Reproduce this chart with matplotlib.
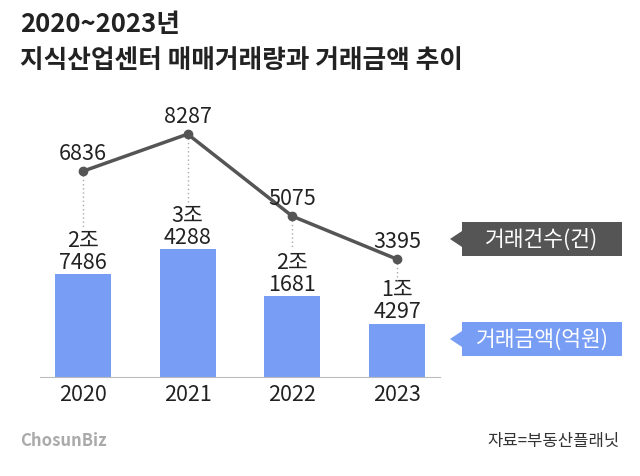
import matplotlib
matplotlib.use("Agg")
import matplotlib.pyplot as plt
from matplotlib.patches import FancyBboxPatch, Polygon

plt.rcParams['font.family'] = ['Noto Sans CJK KR', 'Noto Sans CJK JP', 'Noto Sans CJK SC', 'DejaVu Sans']

years = ['2020', '2021', '2022', '2023']
amount = [27486, 34288, 21681, 14297]          # 억원
amount_labels = ['2조\n7486', '3조\n4288', '2조\n1681', '1조\n4297']
counts = [6836, 8287, 5075, 3395]              # 건

W, H = 640, 477
fig = plt.figure(figsize=(W/100, H/100), dpi=100)
fig.patch.set_facecolor('white')

def fx(p): return p / W
def fy(p): return 1 - p / H

ax = fig.add_axes([fx(40), fy(378), fx(400), (378-80)/H])
ax.set_xlim(-0.41, 3.41)
ax.set_ylim(0, 79830)
x = range(len(years))
ax.bar(x, amount, width=0.535, color='#789df5', zorder=2)
for s in ['top', 'right', 'left']:
    ax.spines[s].set_visible(False)
ax.spines['bottom'].set_color('#bbbbbb')
ax.set_yticks([])
ax.set_xticks(list(x))
ax.set_xticklabels(years, fontsize=15.5, color='#222222')
ax.tick_params(axis='x', length=0, pad=4)
for i, v in enumerate(amount):
    ax.annotate(amount_labels[i], (i, v), xytext=(0, 1), textcoords='offset points',
                ha='center', va='bottom', fontsize=15.5, color='#222222', linespacing=1.0)

ax2 = ax.twinx()
ax2.set_ylim(-1212, 10442)
ax2.axis('off')
ax2.plot(list(x), counts, color='#555555', lw=2.5, marker='o', ms=6, zorder=3)
for i, v in enumerate(counts):
    ax2.annotate(f'{v}', (i, v), xytext=(0, 5), textcoords='offset points',
                 ha='center', va='bottom', fontsize=15.5, color='#222222')
label_tops_px = [228, 204, 249, 283]
for i, v in enumerate(counts):
    ytop = 10442 - (label_tops_px[i] - 80) / 298 * (10442 + 1212)
    ax2.plot([i, i], [v, ytop], color='#aaaaaa', lw=1, ls=(0, (1, 2)), zorder=1)

def tag(y0, color, text):
    fig.patches.append(FancyBboxPatch((fx(462), fy(y0+34)), fx(160), 34/H,
                       boxstyle='square,pad=0', transform=fig.transFigure,
                       facecolor=color, edgecolor='none'))
    fig.patches.append(Polygon([(fx(462), fy(y0+9)), (fx(450), fy(y0+17)), (fx(462), fy(y0+25))],
                       closed=True, transform=fig.transFigure, facecolor=color, edgecolor='none'))
    fig.text(fx(542), fy(y0+17), text, ha='center', va='center', fontsize=15.5, color='white')

tag(223, '#555555', '거래건수(건)')
tag(323, '#789df5', '거래금액(억원)')

fig.text(fx(20), fy(24), '2020~2023년', fontsize=18.5, fontweight='bold', va='center', color='#222222')
fig.text(fx(20), fy(60), '지식산업센터 매매거래량과 거래금액 추이', fontsize=18.5, fontweight='bold',
         va='center', color='#222222')
fig.text(fx(20), fy(441), 'ChosunBiz', fontsize=12, fontweight='bold', va='center', color='#aaaaaa')
fig.text(fx(620), fy(441), '자료=부동산플래닛', fontsize=12, ha='right', va='center', color='#333333')

fig.savefig('out.png', dpi=100)
